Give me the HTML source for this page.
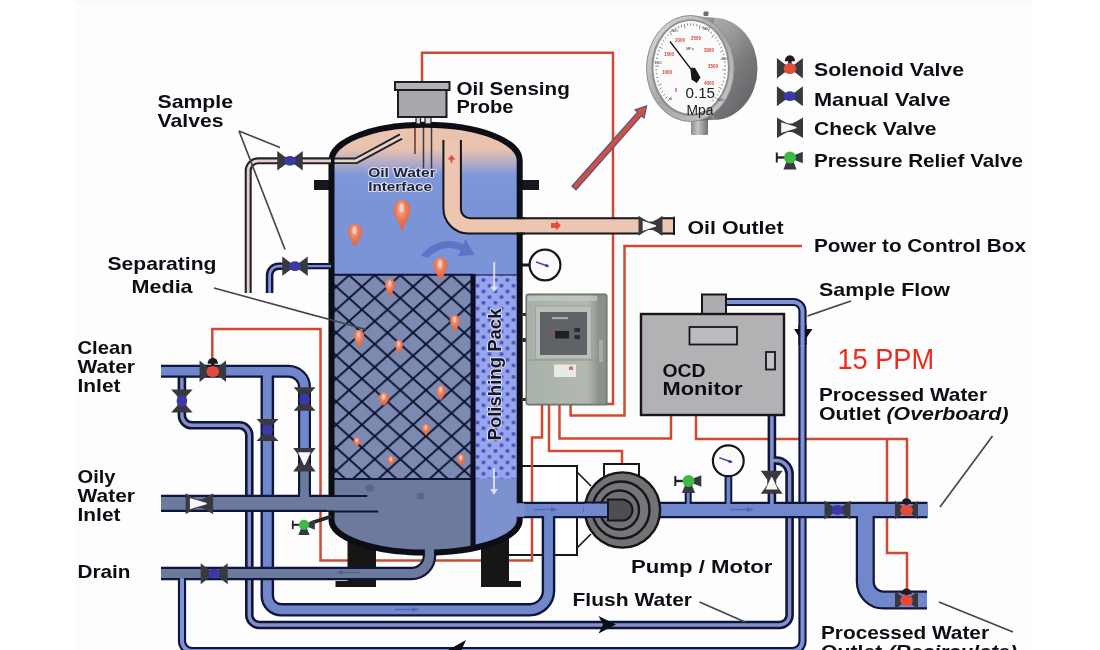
<!DOCTYPE html>
<html lang="en"><head><meta charset="utf-8"><title>Oily Water Separator</title>
<style>
html,body{margin:0;padding:0;background:#fff;}
body{width:1100px;height:650px;overflow:hidden;position:relative;font-family:"Liberation Sans",Arial,sans-serif;}
svg{position:absolute;left:0;top:0;display:block;}
</style></head><body>
<svg width="1100" height="650" viewBox="0 0 1100 650">
<defs>
<clipPath id="img"><rect x="75" y="0" width="956" height="650"/></clipPath>
<filter id="soft" x="0" y="0" width="1100" height="650" filterUnits="userSpaceOnUse"><feGaussianBlur stdDeviation="0.45"/></filter>
</defs>
<rect x="0" y="0" width="1100" height="650" fill="#ffffff"/>
<rect x="75" y="0" width="956" height="650" fill="#fdfdfe"/>
<rect x="75" y="0" width="956" height="3" fill="#f5fafc"/>
<g clip-path="url(#img)"><g filter="url(#soft)">
<rect x="495" y="466" width="82" height="89" fill="#ffffff" stroke="#15151a" stroke-width="2"/>
<path d="M577,472 L591,486 M577,548 L591,534" stroke="#15151a" stroke-width="1.6" fill="none"/>
<g id="redlines">
<path d="M422,83 V52.8 H613 V404 H605" fill="none" stroke="#cf4a33" stroke-width="2.5" stroke-linejoin="miter"/>
<path d="M802,246 H624.5 V415.5 H570.6 V403" fill="none" stroke="#cf4a33" stroke-width="2.5" stroke-linejoin="miter"/>
<path d="M559.5,403 V438.5 H671 V414" fill="none" stroke="#cf4a33" stroke-width="2.5" stroke-linejoin="miter"/>
<path d="M549,403 V451 H622 V465" fill="none" stroke="#cf4a33" stroke-width="2.5" stroke-linejoin="miter"/>
<path d="M542,403 V437.5 H532 V560.5 H320.5 V329 H212.3 V360" fill="none" stroke="#cf4a33" stroke-width="2.5" stroke-linejoin="miter"/>
<path d="M696,414 V439 H907 V498" fill="none" stroke="#cf4a33" stroke-width="2.5" stroke-linejoin="miter"/>
<path d="M887,439 V553 H907 V590" fill="none" stroke="#cf4a33" stroke-width="2.5" stroke-linejoin="miter"/>
</g>
<path d="M181.9,374 V415.3 A10,10 0 0 0 191.9,425.3 H239.3 A10,10 0 0 1 249.3,435.3 V615 A10,10 0 0 0 259.3,625 H779.6 A10,10 0 0 0 789.6,615 V474 A13.5,13.5 0 0 0 776.1,460.5 H773" fill="none" stroke="#10153a" stroke-width="8.6" stroke-linecap="butt" stroke-linejoin="round"/>
<path d="M726,302 H793.5 A9,9 0 0 1 802.5,311 V641 A10,10 0 0 1 792.5,651 H192 A10,10 0 0 1 182,641 V578" fill="none" stroke="#10153a" stroke-width="8.2" stroke-linecap="butt" stroke-linejoin="round"/>
<path d="M181.9,374 V415.3 A10,10 0 0 0 191.9,425.3 H239.3 A10,10 0 0 1 249.3,435.3 V615 A10,10 0 0 0 259.3,625 H779.6 A10,10 0 0 0 789.6,615 V474 A13.5,13.5 0 0 0 776.1,460.5 H773" fill="none" stroke="#878fc8" stroke-width="3.3999999999999995" stroke-linecap="butt" stroke-linejoin="round"/>
<path d="M726,302 H793.5 A9,9 0 0 1 802.5,311 V641 A10,10 0 0 1 792.5,651 H192 A10,10 0 0 1 182,641 V578" fill="none" stroke="#7f92d6" stroke-width="3.999999999999999" stroke-linecap="butt" stroke-linejoin="round"/>
<path d="M161,371.2 H288.5 A16,16 0 0 1 304.5,387.2 V497" fill="none" stroke="#10153a" stroke-width="13" stroke-linecap="butt" stroke-linejoin="round"/>
<path d="M267.3,371.2 V595.8 A14,14 0 0 0 281.3,609.8 H529.5 A19,19 0 0 0 548.5,590.8 V512" fill="none" stroke="#10153a" stroke-width="13.6" stroke-linecap="butt" stroke-linejoin="round"/>
<path d="M771.9,414 V505" fill="none" stroke="#10153a" stroke-width="8.6" stroke-linecap="butt" stroke-linejoin="round"/>
<path d="M728.4,474 V505" fill="none" stroke="#10153a" stroke-width="7.7" stroke-linecap="butt" stroke-linejoin="round"/>
<path d="M688.2,490 V505" fill="none" stroke="#10153a" stroke-width="7" stroke-linecap="butt" stroke-linejoin="round"/>
<path d="M518,510 H610" fill="none" stroke="#10153a" stroke-width="16.5" stroke-linecap="butt" stroke-linejoin="round"/>
<path d="M655,510 H927.5" fill="none" stroke="#10153a" stroke-width="16.5" stroke-linecap="butt" stroke-linejoin="round"/>
<path d="M865.3,510 V582 A18,18 0 0 0 883.3,600 H927" fill="none" stroke="#10153a" stroke-width="19" stroke-linecap="butt" stroke-linejoin="round"/>
<path d="M161,371.2 H288.5 A16,16 0 0 1 304.5,387.2 V497" fill="none" stroke="#6f87cc" stroke-width="8.6" stroke-linecap="butt" stroke-linejoin="round"/>
<path d="M267.3,371.2 V595.8 A14,14 0 0 0 281.3,609.8 H529.5 A19,19 0 0 0 548.5,590.8 V512" fill="none" stroke="#6f87cc" stroke-width="8.8" stroke-linecap="butt" stroke-linejoin="round"/>
<path d="M771.9,414 V505" fill="none" stroke="#878fc8" stroke-width="3.5999999999999996" stroke-linecap="butt" stroke-linejoin="round"/>
<path d="M728.4,474 V505" fill="none" stroke="#6f87cc" stroke-width="3.7" stroke-linecap="butt" stroke-linejoin="round"/>
<path d="M688.2,490 V505" fill="none" stroke="#6f87cc" stroke-width="3.0" stroke-linecap="butt" stroke-linejoin="round"/>
<path d="M518,510 H610" fill="none" stroke="#6f87cc" stroke-width="12.1" stroke-linecap="butt" stroke-linejoin="round"/>
<path d="M655,510 H927.5" fill="none" stroke="#6f87cc" stroke-width="12.1" stroke-linecap="butt" stroke-linejoin="round"/>
<path d="M865.3,510 V582 A18,18 0 0 0 883.3,600 H927" fill="none" stroke="#6f87cc" stroke-width="14.6" stroke-linecap="butt" stroke-linejoin="round"/>
<rect x="770.5" y="458.8" width="7" height="3.4" fill="#878fc8"/>
<path d="M347.5,535 H376 V587 H335.5 V581 H347.5 Z" fill="#131318"/>
<path d="M481,535 H509 V581 H521 V587 H481 Z" fill="#131318"/>
<rect x="314" y="180" width="17" height="10" fill="#17171c"/>
<rect x="520" y="180" width="19" height="10" fill="#17171c"/>
<path d="M304.5,468 V497" fill="none" stroke="#10153a" stroke-width="13" stroke-linecap="butt" stroke-linejoin="round"/>
<path d="M161,503.3 H340" fill="none" stroke="#10153a" stroke-width="17.2" stroke-linecap="butt" stroke-linejoin="round"/>
<path d="M161,573.5 H411.5 A18,18 0 0 0 429.5,555.5 V545" fill="none" stroke="#10153a" stroke-width="13.6" stroke-linecap="butt" stroke-linejoin="round"/>
<path d="M304.5,468 V497" fill="none" stroke="#6c7a9e" stroke-width="8.6" stroke-linecap="butt" stroke-linejoin="round"/>
<path d="M161,503.3 H340" fill="none" stroke="#6c7a9e" stroke-width="12.799999999999999" stroke-linecap="butt" stroke-linejoin="round"/>
<path d="M161,573.5 H411.5 A18,18 0 0 0 429.5,555.5 V545" fill="none" stroke="#6c7a9e" stroke-width="9.2" stroke-linecap="butt" stroke-linejoin="round"/>
<rect x="300.2" y="492" width="8.6" height="5" fill="#6c7a9e"/>
<rect x="180" y="576" width="4" height="6" fill="#7f92d6"/>
<rect x="180" y="574" width="4" height="4.6" fill="#6c7a9e"/>
<defs>
<clipPath id="tankclip"><path d="M331.5,160.5 A94.1,35.8 0 0 1 519.7,160.5 V520 A94.1,32.6 0 0 1 331.5,520 Z"/></clipPath>
<linearGradient id="oilgrad" x1="0" y1="0" x2="0" y2="1">
<stop offset="0" stop-color="#ecc4ae"/><stop offset="0.38" stop-color="#e9c2ae"/><stop offset="0.54" stop-color="#b9aec6"/><stop offset="0.72" stop-color="#7e97d8"/><stop offset="1" stop-color="#7a94d7"/>
</linearGradient>
<pattern id="hatch" x="349.1" y="275.2" width="25.6" height="23" patternUnits="userSpaceOnUse">
<path d="M-2,-1.8 L27.6,24.8 M27.6,-1.8 L-2,24.8" stroke="#0a102c" stroke-width="1.9" fill="none"/>
</pattern>
<pattern id="dots" x="480.5" y="277.15" width="12" height="11.4" patternUnits="userSpaceOnUse">
<circle cx="3" cy="2.85" r="2" fill="#4450bc"/><circle cx="9" cy="8.55" r="2" fill="#4450bc"/>
</pattern>
<radialGradient id="dropg" cx="0.45" cy="0.3" r="0.7"><stop offset="0" stop-color="#f4b49c"/><stop offset="0.5" stop-color="#ea7652"/><stop offset="1" stop-color="#e0603e"/></radialGradient>
</defs>
<g clip-path="url(#tankclip)">
<rect x="328" y="118" width="198" height="80" fill="url(#oilgrad)"/>
<rect x="328" y="196" width="198" height="80" fill="#7a94d7"/>
<rect x="328" y="274.5" width="146" height="205" fill="#7c89b1"/>
<rect x="328" y="274.5" width="146" height="205" fill="url(#hatch)"/>
<rect x="474" y="274.5" width="50" height="205" fill="#97a5ec"/>
<rect x="474" y="274.5" width="50" height="205" fill="url(#dots)"/>
<rect x="328" y="479" width="146" height="80" fill="#6c7a9e"/>
<rect x="474" y="479" width="50" height="80" fill="#7d91cf"/>
<path d="M330,274.8 H473 M330,479 H473" stroke="#0d1230" stroke-width="2" fill="none"/><path d="M473,274.8 H522" stroke="#3b4780" stroke-width="1.8" fill="none"/><path d="M476,479 H522" stroke="#7d8dd0" stroke-width="1.2" fill="none"/>
<rect x="470.5" y="274" width="5.1" height="285" fill="#0b0f26"/>
<path d="M327,496 H367.3 M327,511.4 H378.2" stroke="#10153a" stroke-width="2" fill="none"/>
<ellipse cx="370" cy="488" rx="4.5" ry="3.6" fill="#55628a" opacity="0.8"/><ellipse cx="420.5" cy="496" rx="4.2" ry="3.6" fill="#55628a" opacity="0.8"/>
</g>
<path d="M393.5,208.5 A8.5,8.5 0 1 1 410.5,208.5 C410.5,216.15 404.125,225.375 402,231 C399.875,225.375 393.5,216.15 393.5,208.5 Z" fill="url(#dropg)"/>
<ellipse cx="401.575" cy="207.65" rx="2.3800000000000003" ry="4.675000000000001" fill="#fbd9cc" opacity="0.75"/>
<path d="M348.0,231.0 A7.0,7.0 0 1 1 362.0,231.0 C362.0,237.3 356.75,243.375 355,247.5 C353.25,243.375 348.0,237.3 348.0,231.0 Z" fill="url(#dropg)"/>
<ellipse cx="354.65" cy="230.3" rx="1.9600000000000002" ry="3.8500000000000005" fill="#fbd9cc" opacity="0.75"/>
<path d="M433.5,264.5 A7.0,7.0 0 1 1 447.5,264.5 C447.5,270.8 442.25,276.875 440.5,281 C438.75,276.875 433.5,270.8 433.5,264.5 Z" fill="url(#dropg)"/>
<ellipse cx="440.15" cy="263.8" rx="1.9600000000000002" ry="3.8500000000000005" fill="#fbd9cc" opacity="0.75"/>
<path d="M385.0,284.0 A5.0,5.0 0 1 1 395.0,284.0 C395.0,288.5 391.25,293.75 390,297 C388.75,293.75 385.0,288.5 385.0,284.0 Z" fill="url(#dropg)"/>
<ellipse cx="389.75" cy="283.5" rx="1.4000000000000001" ry="2.75" fill="#fbd9cc" opacity="0.75"/>
<path d="M450.0,320.0 A5.0,5.0 0 1 1 460.0,320.0 C460.0,324.5 456.25,329.375 455,332.5 C453.75,329.375 450.0,324.5 450.0,320.0 Z" fill="url(#dropg)"/>
<ellipse cx="454.75" cy="319.5" rx="1.4000000000000001" ry="2.75" fill="#fbd9cc" opacity="0.75"/>
<path d="M354.0,335.0 A5.0,5.0 0 1 1 364.0,335.0 C364.0,339.5 360.25,345.5 359,349 C357.75,345.5 354.0,339.5 354.0,335.0 Z" fill="url(#dropg)"/>
<ellipse cx="358.75" cy="334.5" rx="1.4000000000000001" ry="2.75" fill="#fbd9cc" opacity="0.75"/>
<path d="M395.0,344.0 A4.0,4.0 0 1 1 403.0,344.0 C403.0,347.6 400.0,351.875 399,354.5 C398.0,351.875 395.0,347.6 395.0,344.0 Z" fill="url(#dropg)"/>
<ellipse cx="398.8" cy="343.6" rx="1.12" ry="2.2" fill="#fbd9cc" opacity="0.75"/>
<path d="M379.0,397.5 A5.0,5.0 0 1 1 389.0,397.5 C389.0,402.0 385.25,403.875 384,406 C382.75,403.875 379.0,402.0 379.0,397.5 Z" fill="url(#dropg)"/>
<ellipse cx="383.75" cy="397.0" rx="1.4000000000000001" ry="2.75" fill="#fbd9cc" opacity="0.75"/>
<path d="M436.5,390.0 A4.5,4.5 0 1 1 445.5,390.0 C445.5,394.05 442.125,398.25 441,401 C439.875,398.25 436.5,394.05 436.5,390.0 Z" fill="url(#dropg)"/>
<ellipse cx="440.775" cy="389.55" rx="1.2600000000000002" ry="2.475" fill="#fbd9cc" opacity="0.75"/>
<path d="M422.0,428.0 A4.0,4.0 0 1 1 430.0,428.0 C430.0,431.6 427.0,433.625 426,435.5 C425.0,433.625 422.0,431.6 422.0,428.0 Z" fill="url(#dropg)"/>
<ellipse cx="425.8" cy="427.6" rx="1.12" ry="2.2" fill="#fbd9cc" opacity="0.75"/>
<path d="M353.5,441.0 A3.5,3.5 0 1 1 360.5,441.0 C360.5,444.15 357.875,445.5 357,447 C356.125,445.5 353.5,444.15 353.5,441.0 Z" fill="url(#dropg)"/>
<ellipse cx="356.825" cy="440.65" rx="0.9800000000000001" ry="1.9250000000000003" fill="#fbd9cc" opacity="0.75"/>
<path d="M387.5,459.5 A3.5,3.5 0 1 1 394.5,459.5 C394.5,462.65 391.875,464.375 391,466 C390.125,464.375 387.5,462.65 387.5,459.5 Z" fill="url(#dropg)"/>
<ellipse cx="390.825" cy="459.15" rx="0.9800000000000001" ry="1.9250000000000003" fill="#fbd9cc" opacity="0.75"/>
<path d="M457.0,458.0 A4.0,4.0 0 1 1 465.0,458.0 C465.0,461.6 462.0,464.0 461,466 C460.0,464.0 457.0,461.6 457.0,458.0 Z" fill="url(#dropg)"/>
<ellipse cx="460.8" cy="457.6" rx="1.12" ry="2.2" fill="#fbd9cc" opacity="0.75"/>
<path d="M421,256 C430,242 450,237 463,244.5 L465.5,239 L474.5,255 L458,256 L460.5,250.5 C450,245.5 438,248 428.5,257.5 Z" fill="#5a72c4" opacity="0.92"/>
<path d="M494.2,262 V287" stroke="#e4e8ff" stroke-width="2" fill="none" opacity="0.85"/><path d="M490.3,286.5 L494.2,292 L498.1,286.5 Z" fill="#e4e8ff" opacity="0.9"/>
<path d="M494,468 V490" stroke="#e4e8ff" stroke-width="2" fill="none" opacity="0.85"/><path d="M490.2,489 L494,495 L497.8,489 Z" fill="#e4e8ff" opacity="0.9"/>
<path d="M415,124 V154" stroke="#6b3a38" stroke-width="1.6" fill="none"/>
<path d="M423.5,124 V168.5 M431.5,124 V168.5" stroke="#3d3a45" stroke-width="1.5" fill="none"/>
<path d="M332,160.8 H356 L401,136.5" stroke="#24232c" stroke-width="6.6" fill="none" stroke-linejoin="round"/>
<path d="M330,160.8 H356 L402.5,135.7" stroke="#e6d2c6" stroke-width="2.8" fill="none" stroke-linejoin="round"/>
<path d="M443.4,140 V208 A25,25 0 0 0 468.4,233.4 H640 V218.2 H469.9 A9,9 0 0 1 460.9,209.2 V140 Z" fill="#ecc6b0"/>
<path d="M443.4,140 V208 A25,25 0 0 0 468.4,233.4 H640 M640,218.2 H469.9 A9,9 0 0 1 460.9,209.2 V140" fill="none" stroke="#14141c" stroke-width="2"/>
<rect x="660" y="217.2" width="14" height="17.2" fill="#ecc6b0"/>
<path d="M660,218.2 H674 M660,233.4 H674 M674,216.7 V234.9" stroke="#14141c" stroke-width="2" fill="none"/>
<path d="M331.5,160.5 A94.1,35.8 0 0 1 519.7,160.5 V520 A94.1,32.6 0 0 1 331.5,520 Z" fill="none" stroke="#0b0b15" stroke-width="6"/>
<rect x="327" y="497" width="9" height="13.4" fill="#6c7a9e"/>
<rect x="515.5" y="503.2" width="9" height="13.6" fill="#7a8fd0"/>
<rect x="424.9" y="547" width="9.2" height="10" fill="#6c7a9e"/>
<rect x="516" y="219.2" width="8" height="13.2" fill="#ecc6b0"/>
<path d="M516,218.2 H525 M516,233.4 H525" stroke="#14141c" stroke-width="2" fill="none"/>
<path d="M447.5,159.5 L451.5,155 L455.5,159.5 L453,159.5 L451.5,164 L450,159.5 Z" fill="#e0503c"/>
<path d="M551,223 H556 V220.5 L561,225.5 L556,230.5 V228 H551 Z" fill="#e0503c"/>
<path d="M589,223.5 H592 V221.5 L596,225.5 L592,229.5 V227.5 H589 Z" fill="#e0503c" opacity="0.0"/>
<rect x="416" y="116" width="4.5" height="8" fill="#d8d8d8" stroke="#1b1b22" stroke-width="1.2"/><rect x="425" y="116" width="6" height="8" fill="#d8d8d8" stroke="#1b1b22" stroke-width="1.2"/>
<rect x="398" y="89" width="48.5" height="28" fill="#a9a9ad" stroke="#1b1b22" stroke-width="2"/>
<rect x="395" y="82" width="54.5" height="8" fill="#b4b4b8" stroke="#1b1b22" stroke-width="2"/>
<path d="M331,160.8 H258.2 A10,10 0 0 0 248.2,170.8 V293" fill="none" stroke="#24232c" stroke-width="7" stroke-linecap="butt" stroke-linejoin="round"/>
<path d="M283,266.2 H278.6 A9,9 0 0 0 269.6,275.2 V293" fill="none" stroke="#10153a" stroke-width="7.6" stroke-linecap="butt" stroke-linejoin="round"/>
<path d="M331,266.2 H283" fill="none" stroke="#10153a" stroke-width="6.2" stroke-linecap="butt" stroke-linejoin="round"/>
<path d="M331,160.8 H258.2 A10,10 0 0 0 248.2,170.8 V293" fill="none" stroke="#e6d2c6" stroke-width="2.8" stroke-linecap="butt" stroke-linejoin="round"/>
<path d="M283,266.2 H278.6 A9,9 0 0 0 269.6,275.2 V293" fill="none" stroke="#8890d6" stroke-width="2.8" stroke-linecap="butt" stroke-linejoin="round"/>
<path d="M331,266.2 H283" fill="none" stroke="#7d8ad0" stroke-width="2.2" stroke-linecap="butt" stroke-linejoin="round"/>
<g transform="translate(290,160.8)"><path d="M-12.75,-9.75 Q-5.7375,-4.095 1.2,0 Q-5.7375,4.095 -12.75,9.75 Z M12.75,-9.75 Q5.7375,-4.095 -1.2,0 Q5.7375,4.095 12.75,9.75 Z" fill="#38383f"/></g><ellipse cx="290" cy="160.8" rx="5.9" ry="4.9" fill="#3b38a8"/>
<g transform="translate(295,266.2)"><path d="M-12.75,-9.75 Q-5.7375,-4.095 1.2,0 Q-5.7375,4.095 -12.75,9.75 Z M12.75,-9.75 Q5.7375,-4.095 -1.2,0 Q5.7375,4.095 12.75,9.75 Z" fill="#38383f"/></g><ellipse cx="295" cy="266.2" rx="5.9" ry="4.9" fill="#3b38a8"/>
<path d="M522,265 H531" stroke="#15151c" stroke-width="3" fill="none"/>
<circle cx="545" cy="265" r="15.4" fill="#fbfbfd" stroke="#17171c" stroke-width="2.2"/>
<path d="M536,262 L549,266.5" stroke="#4a4cae" stroke-width="1.6" fill="none"/><circle cx="546.5" cy="265.6" r="1.5" fill="#3a3c90"/>
<circle cx="728.3" cy="460.8" r="15.4" fill="#fbfbfd" stroke="#17171c" stroke-width="2.2"/>
<path d="M719.3,457.8 L732.3,462.3" stroke="#4a4cae" stroke-width="1.6" fill="none"/><circle cx="729.8" cy="461.40000000000003" r="1.5" fill="#3a3c90"/>
<g transform="translate(212.8,371.2)"><path d="M-13.25,-10.75 Q-5.9625,-4.515 1.2,0 Q-5.9625,4.515 -13.25,10.75 Z M13.25,-10.75 Q5.9625,-4.515 -1.2,0 Q5.9625,4.515 13.25,10.75 Z" fill="#38383f"/></g><g transform="translate(212.8,371.2)"><path d="M-5.2,-7.55 A5.2,6 0 0 1 5.2,-7.55 Z" fill="#1d1d22"/><rect x="-1.7" y="-8.75" width="3.4" height="4" fill="#1d1d22"/><ellipse cx="0" cy="0.3" rx="6.3" ry="5.5" fill="#e24b38"/></g>
<g transform="translate(181.9,401) rotate(90)"><path d="M-11.5,-10.75 Q-5.175,-4.515 1.2,0 Q-5.175,4.515 -11.5,10.75 Z M11.5,-10.75 Q5.175,-4.515 -1.2,0 Q5.175,4.515 11.5,10.75 Z" fill="#38383f"/></g><ellipse cx="181.9" cy="401" rx="5.3" ry="5.6" fill="#3b38a8"/>
<g transform="translate(267.5,430) rotate(90)"><path d="M-11.0,-11.0 Q-4.95,-4.62 1.2,0 Q-4.95,4.62 -11.0,11.0 Z M11.0,-11.0 Q4.95,-4.62 -1.2,0 Q4.95,4.62 11.0,11.0 Z" fill="#38383f"/></g><ellipse cx="267.5" cy="430" rx="5.3" ry="5.6" fill="#3b38a8"/>
<g transform="translate(304.6,399) rotate(90)"><path d="M-11.75,-11.0 Q-5.2875000000000005,-4.62 1.2,0 Q-5.2875000000000005,4.62 -11.75,11.0 Z M11.75,-11.0 Q5.2875000000000005,-4.62 -1.2,0 Q5.2875000000000005,4.62 11.75,11.0 Z" fill="#38383f"/></g><ellipse cx="304.6" cy="399" rx="5.3" ry="5.6" fill="#3b38a8"/>
<g transform="translate(304.4,459.7) rotate(90)"><path d="M-11.75,-11.25 Q-5.875,-6.75 -2.2,-4.3 L2.2,-4.3 Q5.875,-6.75 11.75,-11.25 L11.75,11.25 Q5.875,6.75 2.2,4.3 L-2.2,4.3 Q-5.875,6.75 -11.75,11.25 Z" fill="#38383f"/><path d="M-7.55,-6.35 L5.25,-0.6 L5.25,0.6 L-7.55,6.35 Z" fill="#f7f7f9"/></g>
<g transform="translate(199.4,503.7)"><path d="M-13.75,-10.5 Q-6.875,-6.3 -2.2,-4.3 L2.2,-4.3 Q6.875,-6.3 13.75,-10.5 L13.75,10.5 Q6.875,6.3 2.2,4.3 L-2.2,4.3 Q-6.875,6.3 -13.75,10.5 Z" fill="#38383f"/><path d="M-9.55,-5.6 L7.25,-0.6 L7.25,0.6 L-9.55,5.6 Z" fill="#f7f7f9"/></g>
<g transform="translate(214.2,573.7)"><path d="M-13.5,-10.5 Q-6.075,-4.41 1.2,0 Q-6.075,4.41 -13.5,10.5 Z M13.5,-10.5 Q6.075,-4.41 -1.2,0 Q6.075,4.41 13.5,10.5 Z" fill="#38383f"/></g><ellipse cx="214.2" cy="573.7" rx="5.9" ry="4.9" fill="#3b38a8"/>
<g transform="translate(837.5,510)"><path d="M-13.0,-9.5 Q-5.8500000000000005,-3.9899999999999998 1.2,0 Q-5.8500000000000005,3.9899999999999998 -13.0,9.5 Z M13.0,-9.5 Q5.8500000000000005,-3.9899999999999998 -1.2,0 Q5.8500000000000005,3.9899999999999998 13.0,9.5 Z" fill="#38383f"/></g><ellipse cx="837.5" cy="510" rx="5.9" ry="4.9" fill="#3b38a8"/>
<g transform="translate(906.5,510)"><path d="M-11.5,-9.25 Q-5.175,-3.885 1.2,0 Q-5.175,3.885 -11.5,9.25 Z M11.5,-9.25 Q5.175,-3.885 -1.2,0 Q5.175,3.885 11.5,9.25 Z" fill="#38383f"/></g><g transform="translate(906.5,510)"><path d="M-5.2,-6.05 A5.2,6 0 0 1 5.2,-6.05 Z" fill="#1d1d22"/><rect x="-1.7" y="-7.25" width="3.4" height="4" fill="#1d1d22"/><ellipse cx="0" cy="0.3" rx="6.3" ry="5.5" fill="#e24b38"/></g>
<g transform="translate(906.5,600.2)"><path d="M-11.5,-9.25 Q-5.175,-3.885 1.2,0 Q-5.175,3.885 -11.5,9.25 Z M11.5,-9.25 Q5.175,-3.885 -1.2,0 Q5.175,3.885 11.5,9.25 Z" fill="#38383f"/></g><g transform="translate(906.5,600.2)"><path d="M-5.2,-6.05 A5.2,6 0 0 1 5.2,-6.05 Z" fill="#1d1d22"/><rect x="-1.7" y="-7.25" width="3.4" height="4" fill="#1d1d22"/><ellipse cx="0" cy="0.3" rx="6.3" ry="5.5" fill="#e24b38"/></g>
<g transform="translate(771.7,482.3) rotate(270)"><path d="M-11.5,-11.0 Q-5.75,-6.6 -2.2,-4.3 L2.2,-4.3 Q5.75,-6.6 11.5,-11.0 L11.5,11.0 Q5.75,6.6 2.2,4.3 L-2.2,4.3 Q-5.75,6.6 -11.5,11.0 Z" fill="#38383f"/><path d="M-7.3,-6.1 L5.0,-0.6 L5.0,0.6 L-7.3,6.1 Z" fill="#f7f7f9"/></g>
<g transform="translate(650.5,225.8)"><path d="M-12.0,-10.0 Q-6.0,-6.0 -2.2,-4.3 L2.2,-4.3 Q6.0,-6.0 12.0,-10.0 L12.0,10.0 Q6.0,6.0 2.2,4.3 L-2.2,4.3 Q-6.0,6.0 -12.0,10.0 Z" fill="#38383f"/><path d="M-7.8,-5.1 L5.5,-0.6 L5.5,0.6 L-7.8,5.1 Z" fill="#f7f7f9"/></g>
<path d="M311,523 L331,516.5" stroke="#25252b" stroke-width="3.6" fill="none"/>
<g transform="translate(304,524.8) scale(0.85)"><path d="M-13.2,-5 V5" stroke="#222226" stroke-width="2" fill="none"/><path d="M-13.2,0 H-4" stroke="#222226" stroke-width="2.4" fill="none"/><path d="M4,-2.2 L12.8,-5.8 L12.8,5.8 L4,2.2 Z" fill="#38383f"/><path d="M-3.4,4 L-6.6,12 L6.6,12 L3.4,4 Z" fill="#38383f"/><circle cx="0" cy="0" r="6" fill="#41b845"/></g>
<g transform="translate(688.5,481) scale(1)"><path d="M-13.2,-5 V5" stroke="#222226" stroke-width="2" fill="none"/><path d="M-13.2,0 H-4" stroke="#222226" stroke-width="2.4" fill="none"/><path d="M4,-2.2 L12.8,-5.8 L12.8,5.8 L4,2.2 Z" fill="#38383f"/><path d="M-3.4,4 L-6.6,12 L6.6,12 L3.4,4 Z" fill="#38383f"/><circle cx="0" cy="0" r="6" fill="#41b845"/></g>
<path d="M534,509.5 H556" stroke="#4f66bf" stroke-width="1.3" fill="none"/><path d="M551,507.1 L558,509.5 L551,511.9 Z" fill="#4f66bf"/>
<path d="M730,509.5 H752" stroke="#4f66bf" stroke-width="1.3" fill="none"/><path d="M747,507.1 L754,509.5 L747,511.9 Z" fill="#4f66bf"/>
<path d="M395,609.5 H417" stroke="#4f66bf" stroke-width="1.3" fill="none"/><path d="M412,607.1 L419,609.5 L412,611.9 Z" fill="#4f66bf"/>
<path d="M360,572.5 H338" stroke="#56628e" stroke-width="1.3" fill="none"/><path d="M343,570.1 L336,572.5 L343,574.9 Z" fill="#56628e"/>
<rect x="604" y="464" width="35" height="14" fill="#ffffff" stroke="#15151a" stroke-width="2"/>
<circle cx="622.5" cy="510" r="37.6" fill="#727275" stroke="#121216" stroke-width="2.4"/>
<circle cx="621" cy="510" r="28.5" fill="#767679" stroke="#15151a" stroke-width="2.4"/>
<circle cx="619.5" cy="510" r="19.5" fill="#707073" stroke="#15151a" stroke-width="2.4"/>
<rect x="584" y="503.4" width="25" height="12.6" fill="#6f87cc"/>
<path d="M584,502.4 H609 M584,517 H609" stroke="#10153a" stroke-width="2" fill="none"/>
<path d="M608,499.5 H622 A10.5,10.5 0 0 1 622,520.5 H608 Z" fill="#4e4e52" stroke="#15151a" stroke-width="2"/>
<defs><linearGradient id="cbx" x1="0" y1="0" x2="1" y2="0"><stop offset="0" stop-color="#a9b2aa"/><stop offset="0.85" stop-color="#b1b9b1"/><stop offset="1" stop-color="#8f978f"/></linearGradient></defs>
<rect x="522.5" y="313" width="4" height="3" fill="#2a2c2e"/><rect x="522.5" y="338" width="4" height="4" fill="#2a2c2e"/><rect x="522.5" y="398" width="4" height="3" fill="#2a2c2e"/>
<rect x="526" y="294" width="81" height="111" rx="2" fill="#858d86" stroke="#5d655f" stroke-width="1"/>
<rect x="527" y="295.5" width="71" height="108" rx="2" fill="url(#cbx)"/>
<rect x="598" y="297" width="8" height="106" fill="#8a928b"/>
<rect x="528" y="296" width="69" height="5" fill="#c3cac3" opacity="0.7"/>
<rect x="535.5" y="306" width="56" height="53" rx="1.5" fill="#b9c0b9" stroke="#98a098" stroke-width="0.8"/>
<rect x="540" y="312" width="47" height="43" fill="#5f6367"/>
<rect x="555" y="331" width="14" height="7.5" fill="#1e2023"/>
<rect x="574.5" y="328" width="5.5" height="4" fill="#2a2c30"/><rect x="574.5" y="335" width="5.5" height="4" fill="#2a2c30"/>
<rect x="552" y="317" width="16" height="2.2" fill="#b8bcc0" opacity="0.8"/>
<circle cx="550.7" cy="332" r="1.2" fill="#d03a3a"/>
<path d="M528,360 H597" stroke="#8b938c" stroke-width="1.2" fill="none"/>
<rect x="554" y="364.5" width="22" height="12.5" fill="#e9e9e6"/>
<rect x="569" y="366.5" width="4" height="3.5" fill="#c9534f" opacity="0.8"/>
<rect x="599" y="340" width="4" height="22" fill="#a6aea7"/>
<rect x="702" y="294.5" width="24" height="21" fill="#acacae" stroke="#17171c" stroke-width="2"/>
<rect x="641" y="314" width="143" height="101" fill="#b2b2b4" stroke="#17171c" stroke-width="2.4"/>
<rect x="689.5" y="327" width="47.5" height="17.5" fill="#bcbcbe" stroke="#17171c" stroke-width="1.8"/>
<rect x="766" y="352" width="9" height="17.5" fill="#c4c4c6" stroke="#17171c" stroke-width="1.8"/>
<path d="M794,329 L812.5,329 L803,343 Z" fill="#0e0e14"/>
<path d="M802.5,325 V345" stroke="#10153a" stroke-width="8.2" fill="none"/><path d="M802.5,324 V346" stroke="#7f92d6" stroke-width="4" fill="none"/>
<path d="M598.5,616 L616,624.5 L598.5,633.5 L603,624.5 Z" fill="#0e0e14"/>
<path d="M466,640 L448,650 L466,660 L461.5,650 Z" fill="#0e0e14"/>
<g transform="translate(574,188) rotate(-48.5)"><path d="M0,-2.7 H99 V-6 L109.5,0 L99,6 V2.7 H0 Z" fill="#d3503f" stroke="#5a5685" stroke-width="1.3" stroke-linejoin="miter"/></g>
<defs>
<linearGradient id="steel" x1="0" y1="0" x2="1" y2="0.9"><stop offset="0" stop-color="#c4c4c6"/><stop offset="0.45" stop-color="#9b9b9e"/><stop offset="0.7" stop-color="#77777a"/><stop offset="0.9" stop-color="#69696c"/><stop offset="1" stop-color="#8c8c8f"/></linearGradient>
<linearGradient id="bezel" x1="0" y1="0" x2="1" y2="1"><stop offset="0" stop-color="#e2e2e4"/><stop offset="0.5" stop-color="#a5a5a8"/><stop offset="1" stop-color="#cfcfd2"/></linearGradient>
<linearGradient id="stem" x1="0" y1="0" x2="1" y2="0"><stop offset="0" stop-color="#8a8a8d"/><stop offset="0.4" stop-color="#c5c5c8"/><stop offset="1" stop-color="#707073"/></linearGradient>
</defs>
<g id="pgauge">
<rect x="691" y="117" width="17" height="18" rx="1.5" fill="url(#stem)"/>
<ellipse cx="714" cy="68.8" rx="43.5" ry="51" fill="url(#steel)"/>
<path d="M690,15.5 L714,17.8 L714,119.8 L690,121.5 Z" fill="url(#steel)"/>
<rect x="703.5" y="11.5" width="5" height="4.5" rx="1" fill="#6d6d70"/>
<ellipse cx="690.3" cy="68.5" rx="43.8" ry="53" fill="url(#bezel)" stroke="#8e8e92" stroke-width="1"/>
<ellipse cx="690.6" cy="67.6" rx="39.3" ry="48.3" fill="#8f8f93"/>
<ellipse cx="690.7" cy="67.4" rx="37.3" ry="46.3" fill="#fbfbfb"/>
<path d="M667.9,101.3 L670.2,97.9 M665.5,98.6 L666.9,96.9 M663.4,95.6 L664.9,94.1 M661.4,92.4 L663.1,91.0 M659.7,89.0 L661.5,87.8 M658.3,85.4 L661.6,83.7 M657.1,81.7 L659.0,80.9 M656.2,77.9 L658.2,77.3 M655.6,73.9 L657.6,73.6 M655.3,70.0 L657.3,69.8 M655.2,66.0 L658.8,66.1 M655.5,62.0 L657.5,62.3 M656.0,58.0 L658.0,58.6 M656.8,54.2 L658.7,54.9 M657.9,50.4 L659.8,51.3 M659.3,46.8 L662.5,48.8 M660.9,43.4 L662.6,44.7 M662.8,40.1 L664.4,41.6 M664.9,37.1 L666.3,38.7 M667.2,34.3 L668.5,36.1 M669.7,31.8 L671.8,35.3 M672.4,29.6 L673.4,31.6 M675.2,27.6 L676.1,29.8 M678.1,26.1 L678.8,28.3 M681.2,24.8 L681.7,27.1 M684.3,23.9 L685.0,28.2 M687.5,23.4 L687.7,25.8 M690.7,23.2 L690.7,25.6 M693.9,23.4 L693.7,25.8 M697.1,23.9 L696.7,26.3 M700.2,24.8 L699.3,29.0 M703.3,26.1 L702.6,28.3 M706.2,27.6 L705.3,29.8 M709.0,29.6 L708.0,31.6 M711.7,31.8 L710.5,33.7 M714.2,34.3 L711.8,37.5 M716.5,37.1 L715.1,38.7 M718.6,40.1 L717.0,41.6 M720.5,43.4 L718.8,44.7 M722.1,46.8 L720.3,47.9 M723.5,50.4 L720.2,52.1 M724.6,54.2 L722.7,54.9 M725.4,58.0 L723.4,58.6 M725.9,62.0 L723.9,62.3 M726.2,66.0 L724.2,66.0 M726.1,70.0 L722.5,69.7 M725.8,73.9 L723.8,73.6 M725.2,77.9 L723.2,77.3 M724.3,81.7 L722.4,80.9 M723.1,85.4 L721.3,84.5 M721.7,89.0 L718.5,86.9 M720.0,92.4 L718.3,91.0 M718.0,95.6 L716.5,94.1 M715.9,98.6 L714.5,96.9 M713.5,101.3 L712.2,99.4" stroke="#3a3a3e" stroke-width="0.6" fill="none"/>
<text x="676" y="92" font-family="&quot;Liberation Sans&quot;,sans-serif" font-size="4.6" font-weight="bold" fill="#d64545" text-anchor="middle">0</text>
<text x="667" y="74" font-family="&quot;Liberation Sans&quot;,sans-serif" font-size="4.6" font-weight="bold" fill="#d64545" text-anchor="middle">1000</text>
<text x="669" y="56" font-family="&quot;Liberation Sans&quot;,sans-serif" font-size="4.6" font-weight="bold" fill="#d64545" text-anchor="middle">1500</text>
<text x="680" y="42" font-family="&quot;Liberation Sans&quot;,sans-serif" font-size="4.6" font-weight="bold" fill="#d64545" text-anchor="middle">2000</text>
<text x="696" y="40" font-family="&quot;Liberation Sans&quot;,sans-serif" font-size="4.6" font-weight="bold" fill="#d64545" text-anchor="middle">2500</text>
<text x="709" y="52" font-family="&quot;Liberation Sans&quot;,sans-serif" font-size="4.6" font-weight="bold" fill="#d64545" text-anchor="middle">3000</text>
<text x="713" y="68" font-family="&quot;Liberation Sans&quot;,sans-serif" font-size="4.6" font-weight="bold" fill="#d64545" text-anchor="middle">3500</text>
<text x="709" y="85" font-family="&quot;Liberation Sans&quot;,sans-serif" font-size="4.6" font-weight="bold" fill="#d64545" text-anchor="middle">4000</text>
<text x="671" y="100" font-family="&quot;Liberation Sans&quot;,sans-serif" font-size="4.2" fill="#33333a" text-anchor="middle">0</text>
<text x="658" y="64" font-family="&quot;Liberation Sans&quot;,sans-serif" font-size="4.2" fill="#33333a" text-anchor="middle">100</text>
<text x="674" y="32" font-family="&quot;Liberation Sans&quot;,sans-serif" font-size="4.2" fill="#33333a" text-anchor="middle">200</text>
<text x="706" y="30" font-family="&quot;Liberation Sans&quot;,sans-serif" font-size="4.2" fill="#33333a" text-anchor="middle">300</text>
<text x="724" y="60" font-family="&quot;Liberation Sans&quot;,sans-serif" font-size="4.2" fill="#33333a" text-anchor="middle">400</text>
<text x="720" y="101" font-family="&quot;Liberation Sans&quot;,sans-serif" font-size="4.2" fill="#33333a" text-anchor="middle">500</text>
<text x="690" y="50" font-family="&quot;Liberation Sans&quot;,sans-serif" font-size="3.6" fill="#33333a" text-anchor="middle">MPa</text>
<path d="M670,41.5 L693.5,72.5" stroke="#15151a" stroke-width="1.3" fill="none"/>
<path d="M690.5,70 L694.8,67.5 L700.5,77.5 L696.8,83 L691.5,79.5 Z" fill="#121216"/>
<circle cx="692.4" cy="69" r="1.6" fill="#222226"/>
</g>
<text x="685.5" y="98" font-family="&quot;Liberation Sans&quot;, Arial, Helvetica, sans-serif" font-size="15.2" font-weight="normal" fill="#1a1a1e">0.15</text>
<text x="686.5" y="115.3" font-family="&quot;Liberation Sans&quot;, Arial, Helvetica, sans-serif" font-size="13.8" font-weight="normal" fill="#1a1a1e">Mpa</text>
<g transform="translate(789.9,68.3)"><path d="M-13.0,-10.25 Q-5.8500000000000005,-4.305 1.2,0 Q-5.8500000000000005,4.305 -13.0,10.25 Z M13.0,-10.25 Q5.8500000000000005,-4.305 -1.2,0 Q5.8500000000000005,4.305 13.0,10.25 Z" fill="#38383f"/></g><g transform="translate(789.9,68.3)"><path d="M-5.2,-7.05 A5.2,6 0 0 1 5.2,-7.05 Z" fill="#1d1d22"/><rect x="-1.7" y="-8.25" width="3.4" height="4" fill="#1d1d22"/><ellipse cx="0" cy="0.3" rx="6.3" ry="5.5" fill="#e24b38"/></g>
<g transform="translate(789.9,96.2)"><path d="M-13.0,-10.0 Q-5.8500000000000005,-4.2 1.2,0 Q-5.8500000000000005,4.2 -13.0,10.0 Z M13.0,-10.0 Q5.8500000000000005,-4.2 -1.2,0 Q5.8500000000000005,4.2 13.0,10.0 Z" fill="#38383f"/></g><ellipse cx="789.9" cy="96.2" rx="5.9" ry="4.9" fill="#3b38a8"/>
<g transform="translate(790,127.7)"><path d="M-13.0,-10.25 Q-6.5,-6.1499999999999995 -2.2,-4.3 L2.2,-4.3 Q6.5,-6.1499999999999995 13.0,-10.25 L13.0,10.25 Q6.5,6.1499999999999995 2.2,4.3 L-2.2,4.3 Q-6.5,6.1499999999999995 -13.0,10.25 Z" fill="#38383f"/><path d="M-8.8,-5.35 L6.5,-0.6 L6.5,0.6 L-8.8,5.35 Z" fill="#f7f7f9"/></g>
<g transform="translate(790,157.5) scale(1)"><path d="M-13.2,-5 V5" stroke="#222226" stroke-width="2" fill="none"/><path d="M-13.2,0 H-4" stroke="#222226" stroke-width="2.4" fill="none"/><path d="M4,-2.2 L12.8,-5.8 L12.8,5.8 L4,2.2 Z" fill="#38383f"/><path d="M-3.4,4 L-6.6,12 L6.6,12 L3.4,4 Z" fill="#38383f"/><circle cx="0" cy="0" r="6" fill="#41b845"/></g>
<text x="814" y="76" font-family="&quot;Liberation Sans&quot;, Arial, Helvetica, sans-serif" font-size="19" font-weight="bold" fill="#111116" textLength="150" lengthAdjust="spacingAndGlyphs">Solenoid Valve</text>
<text x="814" y="105.5" font-family="&quot;Liberation Sans&quot;, Arial, Helvetica, sans-serif" font-size="19" font-weight="bold" fill="#111116" textLength="136.5" lengthAdjust="spacingAndGlyphs">Manual Valve</text>
<text x="814" y="135" font-family="&quot;Liberation Sans&quot;, Arial, Helvetica, sans-serif" font-size="19" font-weight="bold" fill="#111116" textLength="122.5" lengthAdjust="spacingAndGlyphs">Check Valve</text>
<text x="814" y="167" font-family="&quot;Liberation Sans&quot;, Arial, Helvetica, sans-serif" font-size="19" font-weight="bold" fill="#111116" textLength="209" lengthAdjust="spacingAndGlyphs">Pressure Relief Valve</text>
<path d="M239,131 L280,147.5" stroke="#45454b" stroke-width="1.7" fill="none"/>
<path d="M239,131 L285,249.5" stroke="#45454b" stroke-width="1.7" fill="none"/>
<path d="M214,288 L366,329.5" stroke="#45454b" stroke-width="1.7" fill="none"/>
<path d="M851,301 L807.5,316" stroke="#45454b" stroke-width="1.7" fill="none"/>
<path d="M992.5,436 L940,507" stroke="#45454b" stroke-width="1.7" fill="none"/>
<path d="M939,602 L1013,632" stroke="#45454b" stroke-width="1.7" fill="none"/>
<path d="M699.5,602 L745,622" stroke="#45454b" stroke-width="1.7" fill="none"/>
<text x="157.5" y="107.6" font-family="&quot;Liberation Sans&quot;, Arial, Helvetica, sans-serif" font-size="19" font-weight="bold" fill="#111116" textLength="75.5" lengthAdjust="spacingAndGlyphs">Sample</text>
<text x="157.5" y="126.7" font-family="&quot;Liberation Sans&quot;, Arial, Helvetica, sans-serif" font-size="19" font-weight="bold" fill="#111116" textLength="66" lengthAdjust="spacingAndGlyphs">Valves</text>
<text x="456.4" y="94.5" font-family="&quot;Liberation Sans&quot;, Arial, Helvetica, sans-serif" font-size="19" font-weight="bold" fill="#111116" textLength="113.4" lengthAdjust="spacingAndGlyphs">Oil Sensing</text>
<text x="456.4" y="113" font-family="&quot;Liberation Sans&quot;, Arial, Helvetica, sans-serif" font-size="19" font-weight="bold" fill="#111116" textLength="57" lengthAdjust="spacingAndGlyphs">Probe</text>
<text x="107.5" y="269.8" font-family="&quot;Liberation Sans&quot;, Arial, Helvetica, sans-serif" font-size="19" font-weight="bold" fill="#111116" textLength="109" lengthAdjust="spacingAndGlyphs">Separating</text>
<text x="131.6" y="292.6" font-family="&quot;Liberation Sans&quot;, Arial, Helvetica, sans-serif" font-size="19" font-weight="bold" fill="#111116" textLength="61" lengthAdjust="spacingAndGlyphs">Media</text>
<text x="77.5" y="354" font-family="&quot;Liberation Sans&quot;, Arial, Helvetica, sans-serif" font-size="19" font-weight="bold" fill="#111116" textLength="55" lengthAdjust="spacingAndGlyphs">Clean</text>
<text x="77.5" y="372.7" font-family="&quot;Liberation Sans&quot;, Arial, Helvetica, sans-serif" font-size="19" font-weight="bold" fill="#111116" textLength="57.5" lengthAdjust="spacingAndGlyphs">Water</text>
<text x="77.5" y="392" font-family="&quot;Liberation Sans&quot;, Arial, Helvetica, sans-serif" font-size="19" font-weight="bold" fill="#111116" textLength="43" lengthAdjust="spacingAndGlyphs">Inlet</text>
<text x="77.5" y="482.5" font-family="&quot;Liberation Sans&quot;, Arial, Helvetica, sans-serif" font-size="19" font-weight="bold" fill="#111116" textLength="38" lengthAdjust="spacingAndGlyphs">Oily</text>
<text x="77.5" y="502" font-family="&quot;Liberation Sans&quot;, Arial, Helvetica, sans-serif" font-size="19" font-weight="bold" fill="#111116" textLength="57.5" lengthAdjust="spacingAndGlyphs">Water</text>
<text x="77.5" y="521" font-family="&quot;Liberation Sans&quot;, Arial, Helvetica, sans-serif" font-size="19" font-weight="bold" fill="#111116" textLength="43" lengthAdjust="spacingAndGlyphs">Inlet</text>
<text x="77.5" y="578" font-family="&quot;Liberation Sans&quot;, Arial, Helvetica, sans-serif" font-size="19" font-weight="bold" fill="#111116" textLength="53" lengthAdjust="spacingAndGlyphs">Drain</text>
<text x="687.5" y="234" font-family="&quot;Liberation Sans&quot;, Arial, Helvetica, sans-serif" font-size="19" font-weight="bold" fill="#111116" textLength="96" lengthAdjust="spacingAndGlyphs">Oil Outlet</text>
<text x="814" y="252" font-family="&quot;Liberation Sans&quot;, Arial, Helvetica, sans-serif" font-size="19" font-weight="bold" fill="#111116" textLength="212" lengthAdjust="spacingAndGlyphs">Power to Control Box</text>
<text x="819" y="296" font-family="&quot;Liberation Sans&quot;, Arial, Helvetica, sans-serif" font-size="19" font-weight="bold" fill="#111116" textLength="131" lengthAdjust="spacingAndGlyphs">Sample Flow</text>
<text x="837.5" y="369.3" font-family="&quot;Liberation Sans&quot;, Arial, Helvetica, sans-serif" font-size="29" font-weight="normal" fill="#ee2a1c" textLength="96.5" lengthAdjust="spacingAndGlyphs">15 PPM</text>
<text x="819" y="401" font-family="&quot;Liberation Sans&quot;, Arial, Helvetica, sans-serif" font-size="19" font-weight="bold" fill="#111116" textLength="168" lengthAdjust="spacingAndGlyphs">Processed Water</text>
<text x="819" y="420" font-family="&quot;Liberation Sans&quot;, Arial, Helvetica, sans-serif" font-size="19" font-weight="bold" fill="#111116" textLength="189.5" lengthAdjust="spacingAndGlyphs">Outlet <tspan font-style="italic">(Overboard)</tspan></text>
<text x="821" y="639" font-family="&quot;Liberation Sans&quot;, Arial, Helvetica, sans-serif" font-size="19" font-weight="bold" fill="#111116" textLength="168" lengthAdjust="spacingAndGlyphs">Processed Water</text>
<text x="821" y="658" font-family="&quot;Liberation Sans&quot;, Arial, Helvetica, sans-serif" font-size="19" font-weight="bold" fill="#111116" textLength="196" lengthAdjust="spacingAndGlyphs">Outlet <tspan font-style="italic">(Recirculate)</tspan></text>
<text x="662.5" y="377" font-family="&quot;Liberation Sans&quot;, Arial, Helvetica, sans-serif" font-size="19" font-weight="bold" fill="#111116" textLength="43" lengthAdjust="spacingAndGlyphs">OCD</text>
<text x="662.5" y="394.5" font-family="&quot;Liberation Sans&quot;, Arial, Helvetica, sans-serif" font-size="19" font-weight="bold" fill="#111116" textLength="80" lengthAdjust="spacingAndGlyphs">Monitor</text>
<text x="631" y="572.5" font-family="&quot;Liberation Sans&quot;, Arial, Helvetica, sans-serif" font-size="19" font-weight="bold" fill="#111116" textLength="141.5" lengthAdjust="spacingAndGlyphs">Pump / Motor</text>
<text x="572.5" y="606" font-family="&quot;Liberation Sans&quot;, Arial, Helvetica, sans-serif" font-size="19" font-weight="bold" fill="#111116" textLength="119.5" lengthAdjust="spacingAndGlyphs">Flush Water</text>
<text x="368.2" y="176.8" font-family="&quot;Liberation Sans&quot;, Arial, Helvetica, sans-serif" font-size="12.3" font-weight="bold" fill="#1c2038" textLength="67.5" lengthAdjust="spacingAndGlyphs" stroke="#eceaf4" stroke-opacity="0.85" stroke-width="1.8" paint-order="stroke" stroke-linejoin="round">Oil Water</text>
<text x="368.2" y="191" font-family="&quot;Liberation Sans&quot;, Arial, Helvetica, sans-serif" font-size="12.3" font-weight="bold" fill="#1c2038" textLength="63.7" lengthAdjust="spacingAndGlyphs" stroke="#eceaf4" stroke-opacity="0.85" stroke-width="1.8" paint-order="stroke" stroke-linejoin="round">Interface</text>
<text transform="translate(500.6,440.5) rotate(-90)" font-family="&quot;Liberation Sans&quot;, Arial, Helvetica, sans-serif" font-size="18.7" font-weight="bold" fill="#15151c" textLength="132" lengthAdjust="spacingAndGlyphs" stroke="#e6eaff" stroke-width="2" paint-order="stroke" stroke-linejoin="round" stroke-opacity="0.8">Polishing Pack</text>
</g></g>
</svg></body></html>
